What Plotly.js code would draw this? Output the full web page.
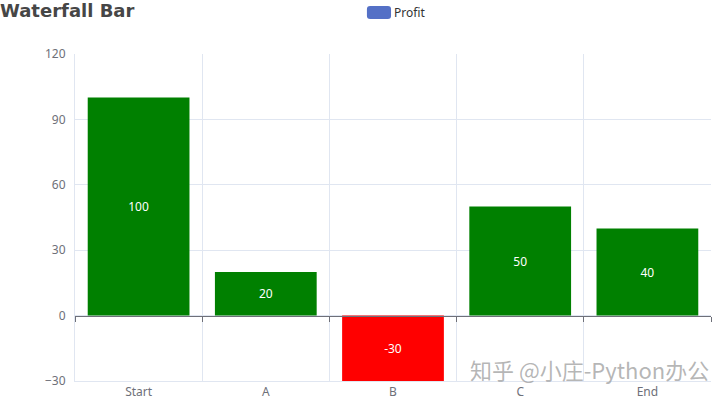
<!DOCTYPE html>
<html>
<head>
<meta charset="utf-8">
<script src="https://cdn.plot.ly/plotly-3.0.1.min.js"></script>
<style>html,body{margin:0;padding:0;background:#fff;}#chart{width:720px;height:408px;}</style>
</head>
<body>
<div id="chart"></div>
<script>
const categories = ["Start", "A", "B", "C", "End"];
const profit = [100, 20, -30, 50, 40];
const seriesName = "Profit";
const yTicks = [-30, 0, 30, 60, 90, 120];
const boundaryTicks = [-0.5, 0.5, 1.5, 2.5, 3.5, 4.5];

const barColors = profit.map(v => v < 0 ? "#FF0000" : "#008000");

const traces = [
  {
    type: "bar",
    x: categories,
    y: profit,
    name: seriesName,
    showlegend: false,
    marker: { color: barColors },
    text: profit.map(String),
    textposition: "inside",
    insidetextanchor: "middle",
    constraintext: "none",
    textfont: { color: "#ffffff", size: 12, family: "Noto Sans, sans-serif" },
    hoverinfo: "x+y"
  },
  {
    type: "scatter",
    mode: "none",
    x: [0],
    y: [null],
    xaxis: "x2",
    yaxis: "y",
    showlegend: false,
    hoverinfo: "skip"
  }
];

// legend icon (rounded rectangle) in paper coordinates
const lx0 = 0.459, lx1 = 0.4969, ly0 = 1.107, ly1 = 1.1468, rx = 0.005, ry = 0.009;
const legendPath = `M ${lx0+rx},${ly0} L ${lx1-rx},${ly0} Q ${lx1},${ly0} ${lx1},${ly0+ry} L ${lx1},${ly1-ry} Q ${lx1},${ly1} ${lx1-rx},${ly1} L ${lx0+rx},${ly1} Q ${lx0},${ly1} ${lx0},${ly1-ry} L ${lx0},${ly0+ry} Q ${lx0},${ly0} ${lx0+rx},${ly0} Z`;

const layout = {
  width: 720,
  height: 408,
  margin: { l: 75, r: 9, t: 54, b: 27 },
  paper_bgcolor: "#ffffff",
  plot_bgcolor: "#ffffff",
  bargap: 0.2,
  font: { family: "Noto Sans, sans-serif", color: "#6E7079", size: 12 },
  title: {
    text: "<b>Waterfall Bar</b>",
    x: 0,
    xanchor: "left",
    xref: "container",
    y: 0.99,
    yanchor: "top",
    yref: "container",
    font: { size: 18, color: "#464646", family: "DejaVu Sans, sans-serif" }
  },
  showlegend: false,
  xaxis: {
    type: "category",
    categoryorder: "array",
    categoryarray: categories,
    tickson: "boundaries",
    showgrid: true,
    gridcolor: "#E0E6F1",
    gridwidth: 1,
    showline: true,
    linecolor: "#E0E6F1",
    ticks: "",
    tickfont: { size: 12, color: "#6E7079" },
    zeroline: false
  },
  xaxis2: {
    overlaying: "x",
    anchor: "free",
    position: 0.2,
    range: [-0.5, 4.5],
    tickvals: boundaryTicks,
    showticklabels: false,
    ticks: "outside",
    ticklen: 5,
    tickcolor: "#6E7079",
    showline: true,
    linecolor: "#6E7079",
    linewidth: 1,
    showgrid: false,
    zeroline: false
  },
  yaxis: {
    range: [-30, 120],
    tickvals: yTicks,
    showgrid: true,
    gridcolor: "#E0E6F1",
    zeroline: false,
    showline: true,
    linecolor: "#E0E6F1",
    ticks: "",
    ticklabelstandoff: 6,
    tickfont: { size: 12, color: "#6E7079" }
  },
  shapes: [
    {
      type: "path",
      xref: "paper",
      yref: "paper",
      path: legendPath,
      fillcolor: "#5470C6",
      line: { width: 0 }
    }
  ],
  annotations: [
    {
      text: seriesName,
      xref: "paper",
      yref: "paper",
      x: 0.498,
      y: 1.128,
      xanchor: "left",
      yanchor: "middle",
      showarrow: false,
      font: { size: 12, color: "#333333", family: "Noto Sans, sans-serif" }
    },
    {
      text: "知乎 @小庄-Python办公",
      xref: "paper",
      yref: "paper",
      x: 1.0,
      y: 0.0,
      xanchor: "right",
      yanchor: "bottom",
      yshift: -6,
      showarrow: false,
      font: { size: 22, color: "rgba(150,150,150,0.7)", family: "Noto Sans CJK SC, sans-serif" }
    }
  ]
};

Plotly.newPlot("chart", traces, layout, { displayModeBar: false, staticPlot: true });
</script>
</body>
</html>
